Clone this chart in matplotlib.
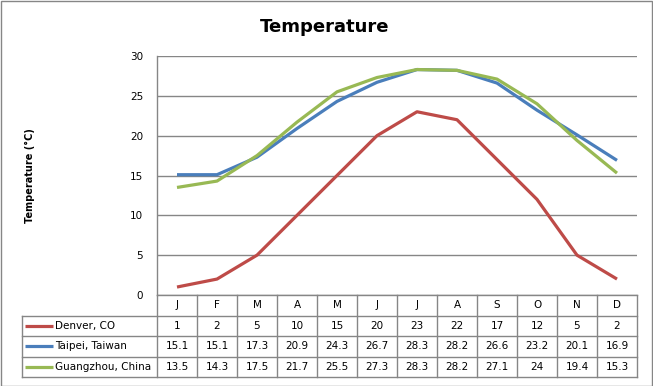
import matplotlib
matplotlib.use("Agg")
import matplotlib.pyplot as plt
from matplotlib.patches import Rectangle

months = ["J", "F", "M", "A", "M", "J", "J", "A", "S", "O", "N", "D"]
series_names = ["Denver, CO", "Taipei, Taiwan", "Guangzhou, China"]
denver = [1, 2, 5, 10, 15, 20, 23, 22, 17, 12, 5, 2]
taipei = [15.1, 15.1, 17.3, 20.9, 24.3, 26.7, 28.3, 28.2, 26.6, 23.2, 20.1, 16.9]
guangzhou = [13.5, 14.3, 17.5, 21.7, 25.5, 27.3, 28.3, 28.2, 27.1, 24, 19.4, 15.3]
colors = ["#BE4B48", "#4A7EBB", "#98B954"]
y_ticks = [0, 5, 10, 15, 20, 25, 30]

W, H = 653, 386
GRID = "#868686"
FS = 7.5
LW = 2.3

fig = plt.figure(figsize=(W / 100, H / 100), dpi=100)
fig.patch.set_facecolor("white")
fig.patches.append(Rectangle((0.5 / W, 0.5 / H), 1 - 1.5 / W, 1 - 1.5 / H,
                             transform=fig.transFigure, fill=False,
                             edgecolor=GRID, linewidth=1))

# plot area in pixel coordinates
px_l, px_r, px_t, px_b = 157, 637, 56, 295
ax = fig.add_axes([px_l / W, (H - px_b) / H, (px_r - px_l) / W, (px_b - px_t) / H])
ax.set_xlim(0, len(months))
ax.set_ylim(0, 30)
ax.set_yticks(y_ticks)
ax.set_xticks([])
ax.tick_params(axis="y", length=0, labelsize=FS, pad=10)
for s in ["top", "right", "bottom"]:
    ax.spines[s].set_visible(False)
ax.spines["left"].set_color(GRID)
ax.spines["left"].set_linewidth(1)
ax.grid(True, axis="y", color=GRID, linewidth=1)
ax.set_axisbelow(True)

xs = [i + 0.5 for i in range(len(months))]
for vals, c in zip([denver, taipei, guangzhou], colors):
    ax.plot(xs, vals, color=c, linewidth=LW, solid_capstyle="butt", clip_on=False)

fig.text(325 / W, 1 - 27 / H, "Temperature", ha="center", va="center",
         fontsize=13, fontweight="bold")
fig.text(30 / W, 1 - 176 / H, "Temperature (°C)", rotation=90, ha="center",
         va="center", fontsize=7, fontweight="bold")

# data table below plot area
tab_l, tab_t, tab_b = 22, 295, 377
tax = fig.add_axes([0, 0, 1, 1])
tax.set_xlim(0, W)
tax.set_ylim(H, 0)
tax.axis("off")
row_h = (tab_b - tab_t) / 4
col_w = (px_r - px_l) / len(months)
lkw = dict(color=GRID, linewidth=1)

# header row lines
tax.plot([px_l, px_r], [tab_t, tab_t], **lkw)
for k in range(len(months) + 1):
    tax.plot([px_l + k * col_w] * 2, [tab_t, tab_b], **lkw)
for r in range(1, 5):
    tax.plot([tab_l, px_r], [tab_t + r * row_h] * 2, **lkw)
tax.plot([tab_l, tab_l], [tab_t + row_h, tab_b], **lkw)

for k, m in enumerate(months):
    tax.text(px_l + (k + 0.5) * col_w, tab_t + 0.5 * row_h, m,
             ha="center", va="center", fontsize=FS)

for r, (name, vals, c) in enumerate(zip(series_names, [denver, taipei, guangzhou], colors)):
    yc = tab_t + (r + 1.5) * row_h
    tax.plot([25, 53], [yc, yc], color=c, linewidth=LW, solid_capstyle="butt")
    tax.text(55, yc, name, ha="left", va="center", fontsize=FS)
    for k, v in enumerate(vals):
        tax.text(px_l + (k + 0.5) * col_w, yc, f"{v:g}",
                 ha="center", va="center", fontsize=FS)

fig.savefig("out.png", dpi=100)
